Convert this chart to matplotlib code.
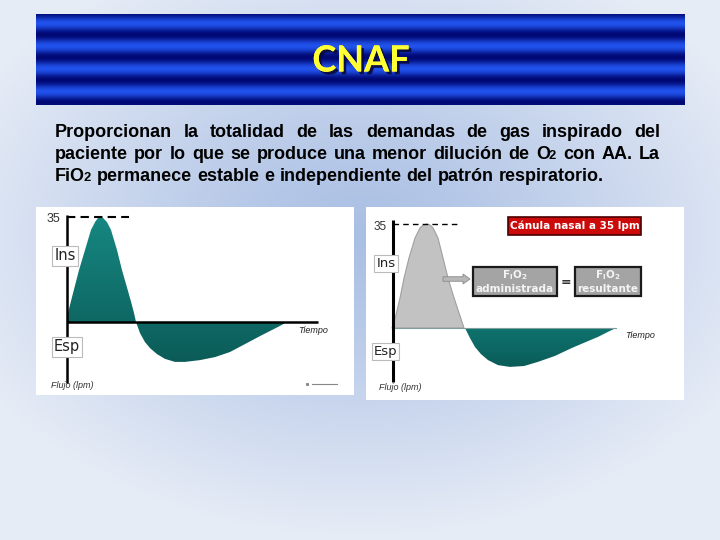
import numpy as np
import matplotlib
matplotlib.use("Agg")
import matplotlib.pyplot as plt
import matplotlib.patheffects as pe
from matplotlib.colors import LinearSegmentedColormap, to_rgb
from matplotlib.patches import Rectangle, FancyArrow

W, H = 720, 540

# --- data (time in arbitrary units, flow in lpm) ---
left_time = [0.0, 0.2, 0.48, 0.72, 0.96, 1.12, 1.24, 1.32, 1.44, 1.6, 1.76,
             2.0, 2.2, 2.4, 2.56, 2.68, 2.76, 2.92, 3.12, 3.32, 3.6, 3.92,
             4.32, 4.72, 5.32, 5.92, 6.52, 7.2, 7.72, 8.12, 8.52, 8.8]
left_flow = [1.7, 8.3, 17.3, 24, 30.7, 33.3, 34.7, 35, 34.7, 33.3, 30.7,
             24, 17.3, 11.5, 6.8, 3, 0, -3.7, -6.7, -8.7, -10.7, -12.3,
             -13.3, -13.3, -12.7, -11.7, -10, -7, -4.7, -3, -1.3, 0]

right_time_ins = [-0.04, 0.12, 0.28, 0.44, 0.64, 0.88, 1.08, 1.22, 1.36, 1.48,
                  1.6, 1.8, 2.0, 2.18, 2.36, 2.54, 2.7, 2.84]
right_flow_ins = [0, 4.4, 10.1, 16.8, 23.6, 30.3, 33.7, 34.7, 35, 34.7,
                  33.7, 30.3, 23.6, 17.5, 12.3, 7.6, 3.6, 0]
right_time_esp = [2.88, 3.08, 3.28, 3.52, 3.80, 4.20, 4.68, 5.24, 5.80, 6.48,
                  7.16, 7.72, 8.2, 8.6, 8.92]
right_flow_esp = [0, -3.4, -6.4, -8.8, -10.8, -12.5, -13.1, -12.8, -11.4, -9.4,
                  -6.7, -4.7, -3.0, -1.3, 0]

peak_flow = 35
title = "CNAF"
body_lines = [
    "Proporcionan la totalidad de las demandas de gas inspirado del",
    "paciente por lo que se produce una menor dilución de O2 con AA. La",
    "FiO2 permanece estable e independiente del patrón respiratorio.",
]
red_label = "Cánula nasal a 35 lpm"
box1_label = ["F$_\\mathregular{I}$O$_\\mathregular{2}$", "administrada"]
box2_label = ["F$_\\mathregular{I}$O$_\\mathregular{2}$", "resultante"]


def fx(x):
    return x / W


def fy(y):
    return 1 - y / H


fig = plt.figure(figsize=(7.2, 5.4), dpi=100)

# background gradient
bg = fig.add_axes([0, 0, 1, 1], zorder=-10)
yy, xx = np.mgrid[0:H, 0:W]
r = np.sqrt(((xx - 360) / 430.0) ** 2 + ((yy - 235) / 300.0) ** 2)
r = np.clip(r, 0, 1)
c_in, c_out = np.array(to_rgb("#aabfe4")), np.array(to_rgb("#e6ecf6"))
img = c_in[None, None, :] * (1 - r[..., None] ** 1.2) + c_out[None, None, :] * (r[..., None] ** 1.2)
bg.imshow(img, extent=[0, W, H, 0], aspect="auto")
bg.set_xlim(0, W)
bg.set_ylim(H, 0)
bg.axis("off")

# title banner with horizontal stripes
ban = fig.add_axes([fx(36), fy(105), fx(685 - 36), (105 - 14) / H], zorder=1)
ys = np.arange(14, 105, 0.5)
s = 0.5 + 0.5 * np.cos(2 * np.pi * (ys - 23) / 22.7)
dark, bright = np.array(to_rgb("#000874")), np.array(to_rgb("#2152ec"))
stripe = dark[None, :] * (1 - s[:, None]) + bright[None, :] * s[:, None]
ban.imshow(stripe[:, None, :], extent=[0, 1, 105, 14], aspect="auto")
ban.set_xlim(0, 1)
ban.set_ylim(105, 14)
ban.axis("off")
fig.text(fx(361), fy(61), title, ha="center", va="center", fontsize=26,
         fontweight="bold", family="Lato", color="#ffff33", zorder=5,
         path_effects=[pe.withSimplePatchShadow(offset=(2, -2), shadow_rgbFace="#0a0a3a", alpha=0.9),
                       pe.Normal()])

# body text, justified
renderer = fig.canvas.get_renderer()
body_size = 13


def word_pieces(word):
    # "O2" style: the 2 is just a smaller glyph on the baseline
    if word.endswith("O2"):
        return [(word[:-1], 1.0), ("2", 0.72)]
    return [(word, 1.0)]


def measure(txt, size):
    t = fig.text(0, 0, txt, fontsize=size, fontweight="bold", family="Liberation Sans")
    w = t.get_window_extent(renderer).width
    t.remove()
    return w


space_w = measure("a a", body_size) - measure("aa", body_size)
line_y = [137, 159, 181]
for i, line in enumerate(body_lines):
    words = line.split()
    widths = [sum(measure(p, body_size * k) for p, k in word_pieces(w)) for w in words]
    x0, x1 = 55, 660
    if i < len(body_lines) - 1:
        gap = (x1 - x0 - sum(widths)) / (len(words) - 1)
    else:
        gap = space_w
    x = x0
    for w, wd in zip(words, widths):
        xp = x
        for p, k in word_pieces(w):
            fig.text(fx(xp), fy(line_y[i]), p, fontsize=body_size * k, fontweight="bold",
                     family="Liberation Sans", va="baseline", ha="left", color="black")
            xp += measure(p, body_size * k) - 1.5
        x += wd + gap


def chart_axes(x0, y0, x1, y1, ox, oy, sx, sy):
    ax = fig.add_axes([fx(x0), fy(y1), (x1 - x0) / W, (y1 - y0) / H], zorder=2)
    ax.set_facecolor("white")
    for sp in ax.spines.values():
        sp.set_visible(False)
    ax.set_xticks([])
    ax.set_yticks([])
    lims = ((x0 - ox) / sx, (x1 - ox) / sx, (oy - y1) / sy, (oy - y0) / sy)
    return ax, lims


def gradient_fill(ax, t, f, top, bottom, z):
    poly, = ax.fill(t, f, facecolor="none", edgecolor="none", zorder=z)
    cmap = LinearSegmentedColormap.from_list("g", [bottom, top])
    grad = np.linspace(0, 1, 256).reshape(-1, 1)
    im = ax.imshow(grad, extent=[min(t), max(t), min(f), max(f)], origin="lower",
                   aspect="auto", cmap=cmap, zorder=z, interpolation="bilinear")
    im.set_clip_path(poly)


def label_box(ax, x, y, txt, size):
    ax.text(x, y, txt, fontsize=size, family="DejaVu Sans", color="#222222",
            ha="center", va="center", zorder=6,
            bbox=dict(boxstyle="square,pad=0.15", fc="white", ec="#bbbbbb", lw=0.8))


# ---- left chart ----
axL, limL = chart_axes(36, 207, 354, 395, 67, 322, 25.0, 3.0)
gradient_fill(axL, [0] + left_time, [0] + left_flow, "#178781", "#0b5c58", 3)
axL.plot([0, 10.04], [0, 0], color="black", lw=1.8, zorder=4, solid_capstyle="butt")
axL.plot([0, 0], [35.7, -20.3], color="black", lw=1.8, zorder=4, solid_capstyle="butt")
axL.plot([0, 2.48], [peak_flow, peak_flow], color="black", lw=1.5, ls=(0, (4, 2.5)), zorder=4)
axL.text(-0.56, 34.5, str(peak_flow), fontsize=9, color="#333333", ha="center", va="center",
         family="Liberation Sans")
label_box(axL, -0.08, (322 - 256) / 3, "Ins", 10.5)
label_box(axL, 0.0, (322 - 347) / 3, "Esp", 10.5)
axL.text(9.25, -2.8, "Tiempo", fontsize=6.5, style="italic", color="#222222",
         ha="left", va="center", family="Liberation Sans")
axL.text(-0.64, -21.0, "Flujo (lpm)", fontsize=6.5, style="italic", color="#333333",
         ha="left", va="center", family="Liberation Sans")
axL.plot([9.8, 10.8], [-20.7, -20.7], color="#888888", lw=0.8)
axL.plot([9.6], [-20.7], marker="s", ms=1.2, color="#888888")
axL.set_xlim(limL[0], limL[1])
axL.set_ylim(limL[2], limL[3])

# ---- right chart ----
axR, limR = chart_axes(366, 207, 684, 400, 393, 328, 25.0, 2.97)
axR.fill(right_time_ins, right_flow_ins, facecolor="#c2c2c2", edgecolor="#a0a0a0",
         lw=0.8, zorder=3)
gradient_fill(axR, right_time_esp, right_flow_esp, "#0f736e", "#0a5c58", 3)
axR.plot([right_time_ins[0], right_time_esp[-1]], [0, 0], color="#7f9f9d", lw=0.8, zorder=3.5)
axR.plot([0, 0], [36.4, -18.2], color="black", lw=2.2, zorder=4, solid_capstyle="butt")
axR.plot([0, 2.6], [peak_flow, peak_flow], color="black", lw=1.0, ls=(0, (4, 3)), zorder=4)
axR.text(-0.52, 34.0, str(peak_flow), fontsize=8.5, color="#333333", ha="center", va="center",
         family="Liberation Sans")
label_box(axR, -0.28, (328 - 263.5) / 2.97, "Ins", 9.5)
label_box(axR, -0.3, (328 - 351.5) / 2.97, "Esp", 9.5)
axR.text(9.28, -2.6, "Tiempo", fontsize=6.5, style="italic", color="#222222",
         ha="left", va="center", family="Liberation Sans")
axR.text(-0.55, -20.2, "Flujo (lpm)", fontsize=6.5, style="italic", color="#333333",
         ha="left", va="center", family="Liberation Sans")
axR.set_xlim(limR[0], limR[1])
axR.set_ylim(limR[2], limR[3])

# overlay items on the right chart (pixel positions)
fig.patches.append(Rectangle((fx(508), fy(235)), (641 - 508) / W, (235 - 217) / H,
                             transform=fig.transFigure, fc="#cc0a0a", ec="#4a0000", lw=1.2, zorder=7))
fig.text(fx(574.5), fy(226), red_label, fontsize=7.5, fontweight="bold", color="white",
         ha="center", va="center", family="DejaVu Sans", zorder=8)

for (bx0, bx1), lab in [((473, 557), box1_label), ((575, 641), box2_label)]:
    fig.patches.append(Rectangle((fx(bx0), fy(296)), (bx1 - bx0) / W, (296 - 267) / H,
                                 transform=fig.transFigure, fc="#a4a4a4", ec="#1a1a1a", lw=1.6, zorder=7))
    cx = (bx0 + bx1) / 2
    fig.text(fx(cx), fy(275), lab[0], fontsize=7.5, fontweight="bold", color="#f4f4f4",
             ha="center", va="center", family="DejaVu Sans", zorder=8)
    fig.text(fx(cx), fy(289), lab[1], fontsize=7.5, fontweight="bold", color="#f4f4f4",
             ha="center", va="center", family="DejaVu Sans", zorder=8)
fig.text(fx(566), fy(282), "=", fontsize=9, fontweight="bold", color="#333333",
         ha="center", va="center", family="DejaVu Sans", zorder=8)
fig.patches.append(FancyArrow(fx(443), fy(279), (470 - 443) / W, 0, width=4.5 / H,
                              head_width=10 / H, head_length=7 / W, length_includes_head=True,
                              transform=fig.transFigure, fc="#b8b8b8", ec="#8a8a8a", lw=0.6, zorder=7))

fig.savefig("out.png", dpi=100)
